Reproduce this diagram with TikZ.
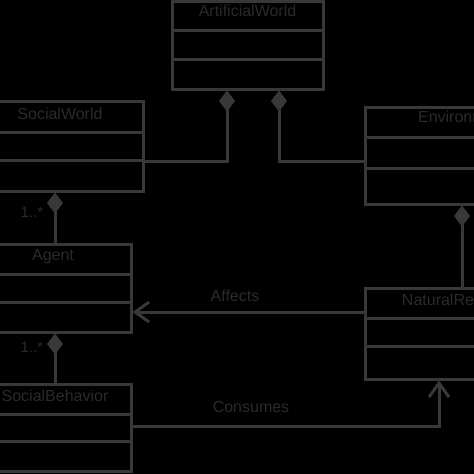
\documentclass[tikz,border=0pt]{standalone}
\usepackage{fontspec}
\setmainfont{Liberation Sans}
\usepackage{tikz}
\usetikzlibrary{positioning,arrows.meta}
\definecolor{umlline}{RGB}{56,56,56}
\definecolor{umltext}{RGB}{42,42,42}

\begin{document}
\begin{tikzpicture}[x=1pt,y=-1pt,
  cls/.style={draw=umlline, line width=3pt, inner sep=0pt},
  title/.style={text=umltext, font=\fontsize{16}{19}\selectfont, inner sep=0pt},
  mult/.style={text=umltext, font=\fontsize{15}{18}\selectfont, inner sep=0pt},
  wire/.style={draw=umlline, line width=3pt},
  comp/.style={wire, {Diamond[length=21pt,width=16pt]}-},
  assoc/.style={wire, -{Straight Barb[length=14pt,width=20pt]}}]
\fill[black] (0,0) rectangle (474,474);
\useasboundingbox (0,0) rectangle (474,474);
\clip (0,0) rectangle (474,474);
% classes
\node[cls, minimum width=151pt, minimum height=88pt] (aw) at (247.5,45) {};
\node[title, below=5pt of aw.north] (awt) {ArtificialWorld};
\node[cls, minimum width=166pt, minimum height=90pt] (sw) at (60,146) {};
\node[title, below=8pt of sw.north] (swt) {SocialWorld};
\node[cls, minimum width=196pt, minimum height=97pt] (env) at (463,155.5) {};
\node[title, below=5pt of env.north] (envt) {Environment};
\node[cls, minimum width=156pt, minimum height=88pt] (ag) at (53,288) {};
\node[title, below=7pt of ag.north] (agt) {Agent};
\node[cls, minimum width=194pt, minimum height=91pt] (nr) at (462,333.5) {};
\node[title, below=7pt of nr.north] (nrt) {NaturalResource};
\node[cls, minimum width=152pt, minimum height=87pt] (sb) at (55,427.5) {};
\node[title, below=7pt of sb.north] (sbt) {SocialBehavior};
% compartments
\foreach \n/\a/\b in {aw/31/60, sw/33/61, env/32/63, ag/32/60, nr/32/60, sb/32/59}{
  \draw[wire] ([yshift=-\a pt]\n.north west) -- ([yshift=-\a pt]\n.north east);
  \draw[wire] ([yshift=-\b pt]\n.north west) -- ([yshift=-\b pt]\n.north east);
}
% relations
\coordinate (awA) at ([xshift=-20.5pt]aw.south);
\coordinate (awB) at ([xshift=31.5pt]aw.south);
\coordinate (swJ) at (143,161);
\coordinate (envJ) at (365,161);
\draw[comp] (awA) |- (swJ);
\draw[comp] (awB) |- (envJ);
\draw[comp] ([xshift=-5pt]sw.south) -- ([xshift=-5pt]sw.south |- ag.north);
\draw[comp] ([xshift=-1pt]env.south) -- ([xshift=-1pt]env.south |- nr.north);
\draw[comp] ([xshift=2pt]ag.south) -- ([xshift=2pt]ag.south |- sb.north);
\draw[assoc] ([yshift=21.5pt]nr.west) -- ([yshift=21.5pt]nr.west -| ag.east);
\draw[assoc] ([yshift=1.5pt]sb.east) -| ([xshift=-23pt]nr.south);
% labels
\node[title] (aff) at (235,296) {Affects};
\node[title] (con) at (251,407) {Consumes};
\node[mult] (m1) at (32,212) {1..*};
\node[mult] (m2) at (32,347) {1..*};
\end{tikzpicture}
\end{document}
